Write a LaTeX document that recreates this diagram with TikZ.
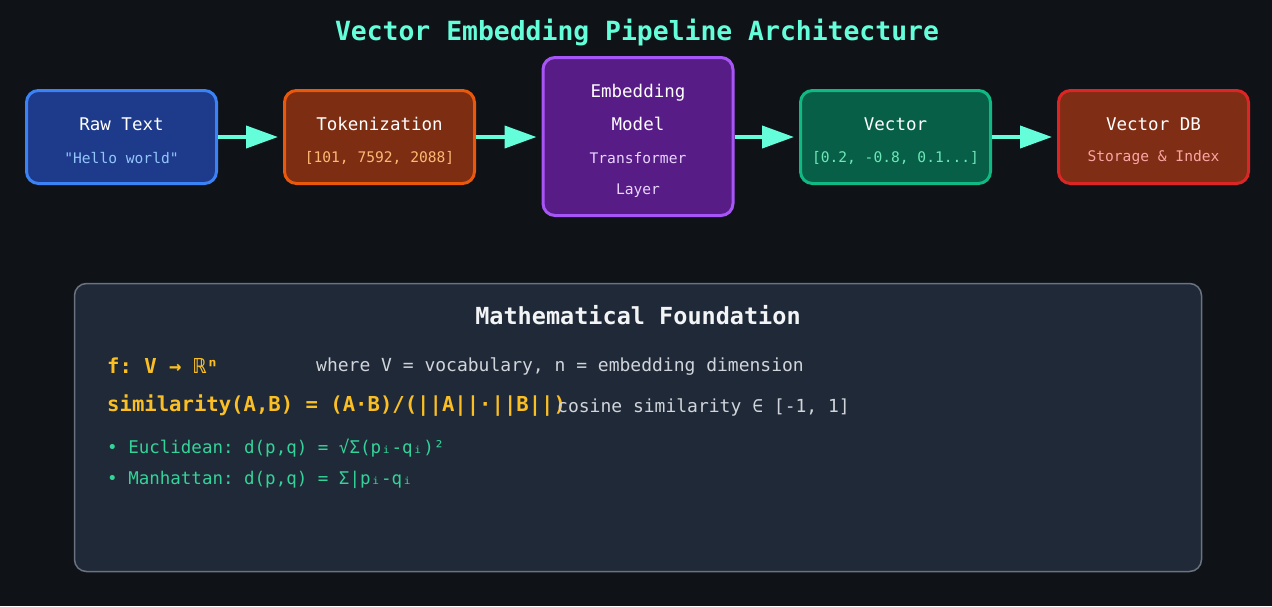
\documentclass[tikz,border=0pt]{standalone}
\usepackage{fontspec}
\setmonofont{DejaVu Sans Mono}
\setmainfont{DejaVu Sans Mono}
\usetikzlibrary{arrows.meta,calc}
\definecolor{bg}{HTML}{0F1318}
\definecolor{accent}{HTML}{64FFDA}
\definecolor{rawfill}{HTML}{1E3A8A}\definecolor{rawline}{HTML}{3B82F6}\definecolor{rawsub}{HTML}{93C5FD}
\definecolor{tokfill}{HTML}{7C2D12}\definecolor{tokline}{HTML}{EA580C}\definecolor{toksub}{HTML}{FDBA74}
\definecolor{embfill}{HTML}{581C87}\definecolor{embline}{HTML}{A855F7}\definecolor{embsub}{HTML}{E9D5FF}
\definecolor{vecfill}{HTML}{065F46}\definecolor{vecline}{HTML}{10B981}\definecolor{vecsub}{HTML}{6EE7B7}
\definecolor{dbfill}{HTML}{7F2D14}\definecolor{dbline}{HTML}{DC2626}\definecolor{dbsub}{HTML}{FCA5A5}
\definecolor{panelfill}{HTML}{1F2937}\definecolor{panelline}{HTML}{6B7280}
\definecolor{mtitle}{HTML}{F3F4F6}
\definecolor{formula}{HTML}{FBBF24}
\definecolor{greytext}{HTML}{D1D5DB}
\definecolor{greenbul}{HTML}{34D399}
\tikzset{
  stage/.style={draw, line width=3pt, rounded corners=12pt, minimum width=190pt, minimum height=93pt, inner sep=0pt},
  stagetitle/.style={text=white, font=\ttfamily\fontsize{17.5}{20}\selectfont, inner sep=0pt},
  stagesub/.style={font=\ttfamily\fontsize{14.6}{17}\selectfont, inner sep=0pt},
  flow/.style={draw=accent, line width=4pt, -{Triangle[length=32pt,width=22pt]}, shorten >=5pt},
  mathtxt/.style={anchor=west, inner sep=0pt},
}
\begin{document}
\ttfamily
\begin{tikzpicture}[x=1pt,y=-1pt]
\useasboundingbox (0,0) rectangle (1272,606);
\fill[bg] (0,0) rectangle (1272,606);

\node[text=accent, font=\ttfamily\bfseries\fontsize{26.4}{30}\selectfont, inner sep=0pt] (title) at (637,33) {Vector Embedding Pipeline Architecture};

% stages
\node[stage, fill=rawfill, draw=rawline] (raw) at (121.5,137) {};
\node[stage, fill=tokfill, draw=tokline] (tok) at (379.5,137) {};
\node[stage, fill=embfill, draw=embline, minimum height=158pt] (emb) at (638,136.5) {};
\node[stage, fill=vecfill, draw=vecline] (vec) at (895.5,137) {};
\node[stage, fill=dbfill, draw=dbline] (db) at (1153.5,137) {};

\node[stagetitle] (rawt) at ($(raw.center)+(0,-13)$) {Raw Text};
\node[stagesub, text=rawsub] (raws) at ($(raw.center)+(0,21)$) {"Hello world"};
\node[stagetitle] (tokt) at ($(tok.center)+(0,-13)$) {Tokenization};
\node[stagesub, text=toksub] (toks) at ($(tok.center)+(0,21)$) {[101, 7592, 2088]};
\node[stagetitle] (embt1) at ($(emb.center)+(0,-43.5)$) {Embedding};
\node[stagetitle] (embt2) at ($(emb.center)+(0,-12.5)$) {Model};
\node[stagesub, text=embsub] (embs1) at ($(emb.center)+(0,21.5)$) {Transformer};
\node[stagesub, text=embsub] (embs2) at ($(emb.center)+(0,54.5)$) {Layer};
\node[stagetitle] (vect) at ($(vec.center)+(0,-13)$) {Vector};
\node[stagesub, text=vecsub] (vecs) at ($(vec.center)+(0,21)$) {[0.2, -0.8, 0.1...]};
\node[stagetitle] (dbt) at ($(db.center)+(0,-13)$) {Vector DB};
\node[stagesub, text=dbsub] (dbs) at ($(db.center)+(0,21)$) {Storage \& Index};

% connectors
\draw[flow] (raw.east) -- (tok.west);
\draw[flow] (tok.east) -- (raw.east -| emb.west);
\draw[flow] (emb.east |- vec.west) -- (vec.west);
\draw[flow] (vec.east) -- (db.west);

% panel
\node[draw=panelline, fill=panelfill, line width=1.5pt, rounded corners=12pt, minimum width=1127pt, minimum height=288pt, inner sep=0pt] (panel) at (638,427.5) {};
\node[text=mtitle, font=\ttfamily\bfseries\fontsize{23.5}{27}\selectfont, inner sep=0pt] (mt) at (638,315) {Mathematical Foundation};

\node[mathtxt, text=formula, font=\ttfamily\bfseries\fontsize{20.6}{24}\selectfont] (f1) at (107,366) {f: V → ℝⁿ};
\node[mathtxt, text=greytext, font=\ttfamily\fontsize{18}{21}\selectfont] (f1n) at (316,367) {where V = vocabulary, n = embedding dimension};
\node[mathtxt, text=formula, font=\ttfamily\bfseries\fontsize{20.6}{24}\selectfont] (f2) at (107,406) {similarity(A,B) = (A·B)/(||A||·||B||)};
\node[mathtxt, text=greytext, font=\ttfamily\fontsize{18}{21}\selectfont] (f2n) at (557,407) {cosine similarity ∈ [-1, 1]};
\node[mathtxt, text=greenbul, font=\ttfamily\fontsize{17.5}{20}\selectfont] (b1) at (107,448) {• Euclidean: d(p,q) = √Σ(pᵢ-qᵢ)²};
\node[mathtxt, text=greenbul, font=\ttfamily\fontsize{17.5}{20}\selectfont] (b2) at (107,480) {• Manhattan: d(p,q) = Σ|pᵢ-qᵢ};
\end{tikzpicture}
\end{document}
